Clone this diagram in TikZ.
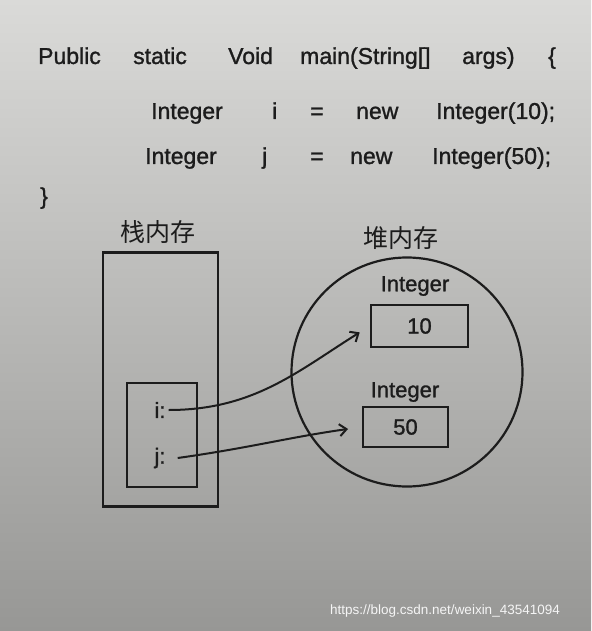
\documentclass[tikz,border=0pt]{standalone}
\usepackage{fontspec}
\setmainfont{Liberation Sans}[FakeBold=1.2]
\newfontfamily\plainsans{Liberation Sans}
\newfontfamily\cjk{Noto Sans CJK SC}
\usetikzlibrary{arrows.meta,shapes.geometric}
\definecolor{ink}{HTML}{1C1C1C}
\definecolor{papertop}{HTML}{DADAD8}
\definecolor{papermid}{HTML}{CACAC8}
\definecolor{paperbot}{HTML}{979795}
\tikzset{
  code/.style={anchor=base west, text=ink, font=\fontsize{23}{25}\selectfont, inner sep=0pt},
  lbl/.style={text=ink, font=\fontsize{22}{24}\selectfont, inner sep=0pt},
  zh/.style={text=ink, font=\cjk\fontsize{25}{27}\selectfont, inner sep=0pt},
  pen/.style={draw=ink, line width=2.2pt},
  boxnode/.style={pen, rectangle, inner sep=0pt, text=ink, font=\fontsize{22}{24}\selectfont},
  ptr/.style={ink, line width=2pt, -{Straight Barb[length=7pt,width=12pt,line width=2pt]}}
}
\begin{document}
\begin{tikzpicture}[x=1pt,y=-1pt]
\useasboundingbox (0,0) rectangle (591,631);
\shade[top color=papertop, middle color=papermid, bottom color=paperbot] (0,0) rectangle (591,631);
% code lines
\node[code] (w1) at (38,64) {Public};
\node[code] (w2) at (133,64) {static};
\node[code] (w3) at (228,64) {Void};
\node[code] (w4) at (300,64) {main(String[]};
\node[code] (w5) at (462,64) {args)};
\node[code] (w6) at (548,64) {\{};
\node[code] (a1) at (151,119) {Integer};
\node[code] (a2) at (272,119) {i};
\node[code] (a3) at (310,119) {=};
\node[code] (a4) at (356,119) {new};
\node[code] (a5) at (436,119) {Integer(10);};
\node[code] (b1) at (145,164) {Integer};
\node[code] (b2) at (262,164) {j};
\node[code] (b3) at (310,164) {=};
\node[code] (b4) at (350,164) {new};
\node[code] (b5) at (432,164) {Integer(50);};
\node[code] (cb) at (40,204) {\}};
% stack
\node[zh] (stacklbl) at (158,232) {栈内存};
\node[pen, rectangle, minimum width=115pt, minimum height=254pt] (stack) at (160.5,379.5) {};
\node[pen, rectangle, minimum width=70pt, minimum height=104pt] (frame) at (162,435) {};
\node[lbl] (i) at (160,410) {i:};
\node[lbl] (j) at (160,458) {j:};
% heap
\node[zh] (heaplbl) at (401,238) {堆内存};
\node[pen, ellipse, minimum width=231pt, minimum height=229pt] (heap) at (407,372) {};
\node[lbl] (t10) at (415,286) {Integer};
\node[boxnode, minimum width=97pt, minimum height=42pt] (box10) at (419.5,326) {10};
\node[lbl] (t50) at (405,392) {Integer};
\node[boxnode, minimum width=85pt, minimum height=40pt] (box50) at (405.5,427) {50};
% pointers
\draw[ptr, shorten >=12pt] ([xshift=3pt]i.east) to[out=0, in=212] (box10.west);
\draw[ptr, shorten >=14pt] ([xshift=12pt]j.east) to[out=8, in=188] (box50.west);
% watermark
\node[text=white!92!gray, font=\plainsans\fontsize{13.5}{15}\selectfont, inner sep=0pt] (wm) at (445,611) {https://blog.csdn.net/weixin\_43541094};
\end{tikzpicture}
\end{document}
